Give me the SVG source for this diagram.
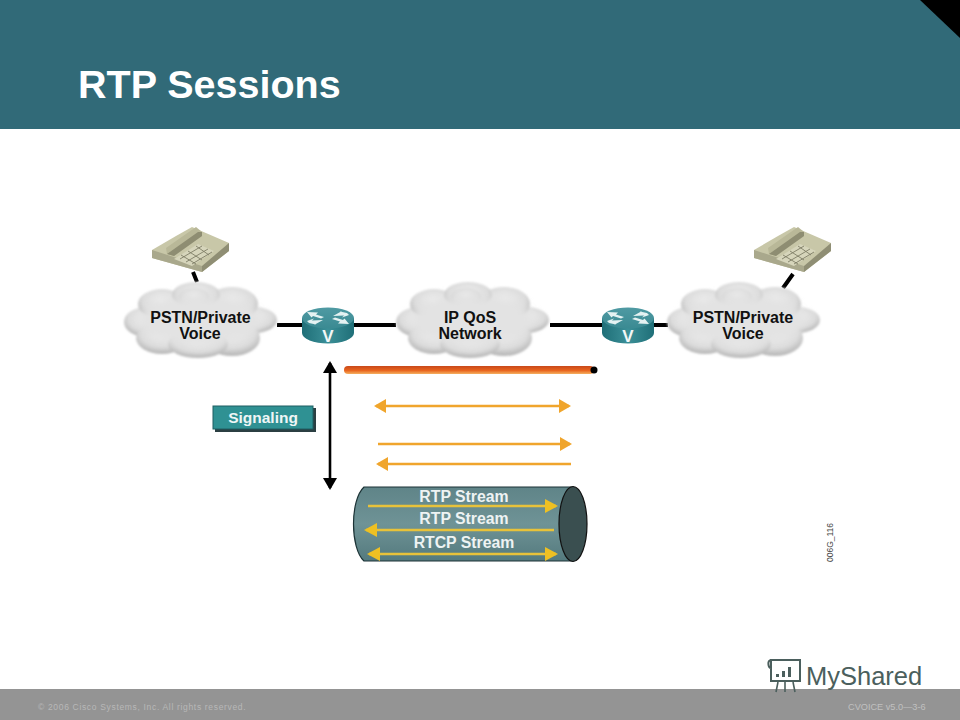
<svg xmlns="http://www.w3.org/2000/svg" xmlns:xlink="http://www.w3.org/1999/xlink" width="960" height="720" viewBox="0 0 960 720">
<style>
text{font-family:"Liberation Sans",Arial,sans-serif}
.cl{font-size:16px;font-weight:700;fill:#111;text-anchor:middle}
.st{font-size:15.800px;font-weight:700;fill:#eef3f3;text-anchor:middle}
.ln{stroke:#000;stroke-width:4;fill:none}
.or{stroke:#f0a52c;stroke-width:2.600;fill:none}
.ye{stroke:#e8c23a;stroke-width:2.600;fill:none}
.lump{fill:url(#lg)}
.ra{fill:#e4f2f2}
</style>
<defs>
<radialGradient id="lg" cx="50%" cy="38%" r="62%"><stop offset="0" stop-color="#ededed"/><stop offset=".65" stop-color="#dcdcdc"/><stop offset="1" stop-color="#b4b4b4"/></radialGradient>
<linearGradient id="rt" x1="0" y1="0" x2="0" y2="1"><stop offset="0" stop-color="#4f9aa3"/><stop offset="1" stop-color="#3a8a92"/></linearGradient>
<linearGradient id="rs" x1="0" y1="0" x2="1" y2="0"><stop offset="0" stop-color="#1f6f78"/><stop offset=".5" stop-color="#3b8f97"/><stop offset="1" stop-color="#1f6f78"/></linearGradient>
<linearGradient id="bar" x1="0" y1="0" x2="0" y2="1"><stop offset="0" stop-color="#c8481a"/><stop offset=".55" stop-color="#e8641e"/><stop offset="1" stop-color="#f5b060"/></linearGradient>
<linearGradient id="cyl" x1="0" y1="0" x2="0" y2="1"><stop offset="0" stop-color="#5f8488"/><stop offset=".5" stop-color="#6f9396"/><stop offset="1" stop-color="#547a7e"/></linearGradient>
<marker id="mo" markerWidth="12" markerHeight="14" refX="10" refY="7" orient="auto-start-reverse" markerUnits="userSpaceOnUse"><path d="M0 0L12 7L0 14Z" fill="#f0a52c"/></marker>
<marker id="my" markerWidth="13" markerHeight="14" refX="11" refY="7" orient="auto-start-reverse" markerUnits="userSpaceOnUse"><path d="M0 0L13 7L0 14Z" fill="#eec022"/></marker>
<marker id="mk" markerWidth="12" markerHeight="14" refX="10" refY="7" orient="auto-start-reverse" markerUnits="userSpaceOnUse"><path d="M0 0L12 7L0 14Z" fill="#000"/></marker>
<filter id="soft" x="-5%" y="-5%" width="110%" height="110%"><feGaussianBlur stdDeviation="0.8"/></filter>
<filter id="soft2" x="-20%" y="-30%" width="140%" height="160%"><feGaussianBlur stdDeviation="5"/></filter>
<g id="cloud"><g filter="url(#soft)">
<ellipse class="lump" cx="-54" cy="2" rx="22" ry="15"/><ellipse class="lump" cx="54" cy="0" rx="23" ry="13"/>
<ellipse class="lump" cx="-38" cy="-16" rx="24" ry="15"/><ellipse class="lump" cx="32" cy="-16" rx="26" ry="17"/>
<ellipse class="lump" cx="-38" cy="18" rx="26" ry="16"/><ellipse class="lump" cx="32" cy="18" rx="28" ry="18"/>
<ellipse class="lump" cx="-2" cy="24" rx="30" ry="14"/><ellipse class="lump" cx="-4" cy="-25" rx="24" ry="13"/>
<ellipse class="lump" cx="-6" cy="-22" rx="15" ry="10"/></g>
<ellipse cx="0" cy="0" rx="62" ry="25" fill="#e3e3e3" filter="url(#soft2)"/></g>
<g id="router"><path d="M-26 -8V7A26 10.500 0 0 0 26 7V-8Z" fill="url(#rs)"/><ellipse cx="0" cy="-8" rx="26" ry="10.500" fill="url(#rt)"/>
<path class="ra" d="M-21 -14L-10 -13.500L-12 -11.500L-4 -9L-7 -7.500L-15 -10L-16.500 -8.500Z"/>
<path class="ra" d="M21 -2L10 -2.500L12 -4.500L4 -7L7 -8.500L15 -6L16.500 -7.500Z"/>
<path class="ra" d="M-5 -6L-16 -5.500L-14 -7.500L-21 -5L-19 -3L-12 -1.500L-14 -1Z"/>
<path class="ra" d="M5 -10L16 -10.500L14 -8.500L21 -11L19 -13L12 -14.500L14 -15Z"/>
<text x="0" y="16" font-size="17" font-weight="700" fill="#f2f7f7" text-anchor="middle">V</text></g>
<g id="phone"><path d="M0 24L24 10L40 1L77 17L77 25L50 46L0 32Z" fill="#c8c7a8"/><path d="M0 24L50 40L50 46L0 32Z" fill="#a9a88c"/><path d="M50 40L77 17L77 25L50 46Z" fill="#8f8e74"/>
<path d="M14 22L44 1L50 6L50 10L22 30L15 28Z" fill="#b9b898"/><path d="M15 28L46 6L50 6L50 10L22 30Z" fill="#8e8d72"/>
<path d="M22 33L46 18L62 25L40 40Z" fill="#d6d5bb"/>
<path d="M28 33L50 20M34 36L56 23M40 38L60 26M29 29L44 38M36 25L50 34M44 20L57 29" stroke="#7f7e66" stroke-width=".9" fill="none"/></g>
</defs>

<rect width="960" height="720" fill="#fff"/>
<g id="header"><rect width="960" height="129" fill="#316a78"/><path d="M920 0H960V38Z" fill="#000"/>
<text x="78" y="98" font-size="39.500" font-weight="700" fill="#fff">RTP Sessions</text></g>

<g id="connectors">
<path class="ln" d="M277 325H302M354 325H396M550 325H602M654 325H668"/>
<path class="ln" d="M193 272L197 282M783 288L793 274"/>
<line x1="330" y1="363" x2="330" y2="488" stroke="#000" stroke-width="2.600" marker-start="url(#mk)" marker-end="url(#mk)"/>
<line x1="376" y1="406" x2="569" y2="406" class="or" marker-start="url(#mo)" marker-end="url(#mo)"/>
<line x1="378" y1="444" x2="570" y2="444" class="or" marker-end="url(#mo)"/>
<line x1="571" y1="464" x2="378" y2="464" class="or" marker-end="url(#mo)"/>
</g>

<g id="phone-left"><use xlink:href="#phone" href="#phone" x="152" y="226"/></g>
<g id="phone-right"><use xlink:href="#phone" href="#phone" x="754" y="226"/></g>

<g id="cloud-left"><use xlink:href="#cloud" href="#cloud" x="200" y="320"/><text class="cl" x="200.500" y="323">PSTN/Private</text><text class="cl" x="200" y="339">Voice</text></g>
<g id="cloud-mid"><use xlink:href="#cloud" href="#cloud" x="472" y="320"/><text class="cl" x="470" y="323">IP QoS</text><text class="cl" x="470" y="339">Network</text></g>
<g id="cloud-right"><use xlink:href="#cloud" href="#cloud" x="743" y="320"/><text class="cl" x="743" y="323">PSTN/Private</text><text class="cl" x="743" y="339">Voice</text></g>

<g id="router-left"><use xlink:href="#router" href="#router" x="328" y="326"/></g>
<g id="router-right"><use xlink:href="#router" href="#router" x="628" y="326"/></g>

<g id="bar"><rect x="344" y="366" width="250" height="8" rx="4" fill="url(#bar)"/><circle cx="594" cy="370" r="3.500" fill="#000"/></g>

<g id="signaling"><rect x="215" y="408" width="101" height="24" fill="#2b3f42"/><rect x="213" y="406" width="100" height="23" fill="#2f9193" stroke="#1f5f62"/>
<text x="263" y="423" font-size="15.500" font-weight="700" fill="#eef6f6" text-anchor="middle">Signaling</text></g>

<g id="tunnel"><path d="M364 487H573V561H364C350 548 350 500 364 487Z" fill="url(#cyl)" stroke="#1c3336" stroke-width="1.200"/>
<ellipse cx="573" cy="524" rx="14" ry="37.500" fill="#3a4f50" stroke="#111" stroke-width="1.200"/>
<text class="st" x="464" y="502">RTP Stream</text><text class="st" x="464" y="524">RTP Stream</text><text class="st" x="464" y="548">RTCP Stream</text>
<line x1="368" y1="506" x2="556" y2="506" class="ye" marker-end="url(#my)"/>
<line x1="554" y1="530" x2="366" y2="530" class="ye" marker-end="url(#my)"/>
<line x1="369" y1="554" x2="556" y2="554" class="ye" marker-start="url(#my)" marker-end="url(#my)"/></g>

<text x="833" y="562" font-size="8.500" fill="#444" transform="rotate(-90 833 562)">006G_116</text>

<g id="footer"><rect y="689" width="960" height="31" fill="#949494"/>
<text x="38" y="710" font-size="8.500" letter-spacing=".67" fill="#b8b8b8">© 2006 Cisco Systems, Inc. All rights reserved.</text>
<text x="848" y="710" font-size="9.200" fill="#c0c0c0">CVOICE v5.0—3-6</text></g>

<g id="logo"><path d="M771 660H800V681H771ZM771 660C767 660 768 668 771 668" fill="none" stroke="#4b5f5d" stroke-width="2"/>
<path d="M776 677v-3h3v3zM782 677v-6h3v6zM788 677v-10h3v10z" fill="#4b5f5d"/>
<path d="M778 682L776 692M785 682V692M793 682L795 692" stroke="#4b5f5d" stroke-width="1.600"/>
<text x="806" y="685" font-size="25.500" fill="#4b5f5d">MyShared</text></g>
</svg>
